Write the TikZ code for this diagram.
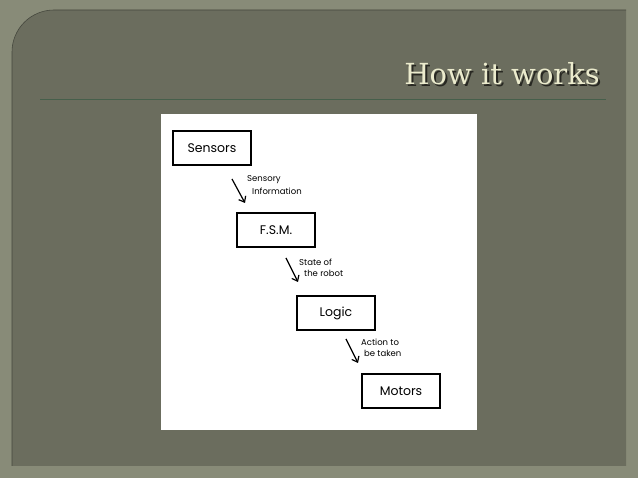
\documentclass[tikz,border=0pt]{standalone}
\usepackage{fontspec}
\usetikzlibrary{arrows.meta}
\setmainfont{Poppins}
\newfontfamily\titlefont{DejaVu Serif}
\definecolor{outerbg}{RGB}{136,139,120}
\definecolor{panel}{RGB}{107,109,94}
\definecolor{edge}{RGB}{70,72,62}
\definecolor{shadow}{RGB}{40,40,34}
\definecolor{titletext}{RGB}{235,235,205}
\definecolor{rule}{RGB}{70,95,75}
\begin{document}
\begin{tikzpicture}[x=1pt,y=-1pt,
  box/.style={draw=black,line width=2.6pt,minimum width=78pt,minimum height=34pt,inner sep=0pt,font=\fontsize{12.5}{14}\selectfont},
  lbl/.style={anchor=west,inner sep=0pt,font=\fontsize{8.5}{9}\selectfont},
  arr/.style={->,line width=1.2pt,>={Straight Barb[length=5pt,width=8pt]}}]
\fill[outerbg] (0,0) rectangle (638,478);
\fill[panel] (12,466) -- (12,52) arc[start angle=180,end angle=270,radius=42] -- (626,10) -- (626,466) -- cycle;
\draw[edge,line width=0.6pt] (12,466) -- (12,52) arc[start angle=180,end angle=270,radius=42] -- (626,10);
\node[anchor=base east,inner sep=0pt,text=shadow,font=\titlefont\fontsize{29}{32}\selectfont] at (602,87) {How it works};
\node[anchor=base east,inner sep=0pt,text=titletext,font=\titlefont\fontsize{29}{32}\selectfont] (title) at (600,85) {How it works};
\draw[rule,line width=1pt] (40,100) -- (606,100);
\fill[white] (161,114) rectangle (477,430);
\node[box] (sensors) at (212,148) {Sensors};
\node[box] (fsm) at (276,230) {F.S.M.};
\node[box] (logic) at (336,313) {Logic};
\node[box] (motors) at (401,391) {Motors};
\coordinate (a1) at (232,179); \coordinate (b1) at (245,203);
\coordinate (a2) at (286,258); \coordinate (b2) at (298,282);
\coordinate (a3) at (346,339); \coordinate (b3) at (358,363);
\draw[arr] (a1) -- (b1);
\draw[arr] (a2) -- (b2);
\draw[arr] (a3) -- (b3);
\node[lbl] (l1) at (247,180) {Sensory};
\node[lbl] (l1b) at (252,191) {Information};
\node[lbl] (l2) at (299,262) {State of};
\node[lbl] (l2b) at (304,273) {the robot};
\node[lbl] (l3) at (361,342) {Action to};
\node[lbl] (l3b) at (364,353) {be taken};
\end{tikzpicture}
\end{document}
